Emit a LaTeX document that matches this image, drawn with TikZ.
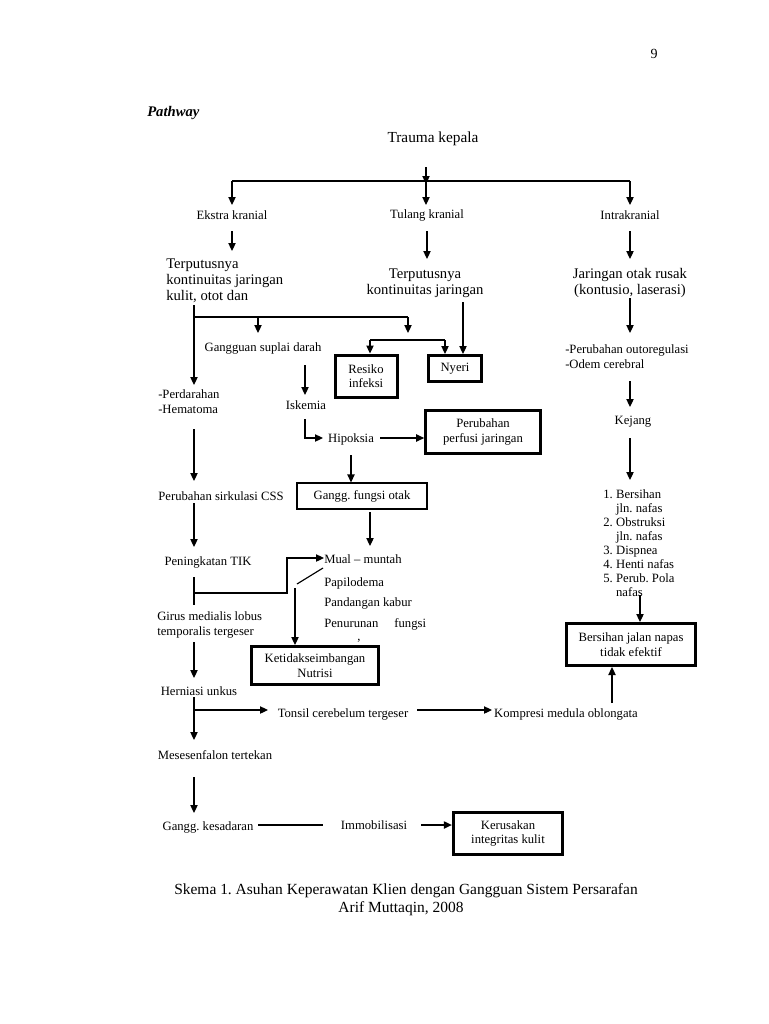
\documentclass[tikz,border=0pt]{standalone}
\usepackage{fontspec}
\setmainfont{Liberation Serif}
\usetikzlibrary{arrows.meta}
\begin{document}
\frenchspacing
\begin{tikzpicture}[x=0.75pt,y=-0.75pt,
  sm/.style={font=\fontsize{9.5}{11}\selectfont, inner sep=0pt, yshift=-1pt},
  lg/.style={font=\fontsize{11}{11.8}\selectfont, inner sep=0pt, yshift=-1pt},
  ln/.style={line width=0.85pt},
  arr/.style={line width=0.85pt,-{Triangle[length=6pt,width=5.5pt]}},
  tbox/.style={draw, line width=2.25pt, font=\fontsize{9.5}{10.8}\selectfont, align=center, inner sep=0pt},
  nbox/.style={draw, line width=0.85pt, font=\fontsize{9.5}{11}\selectfont, align=center, inner sep=0pt}]
\useasboundingbox[fill=white] (0,0) rectangle (768,1024);

% ---------- nodes ----------
\node[inner sep=0pt, font=\fontsize{10.5}{12}\selectfont] (pg) at (654,54) {9};
\node[anchor=west, inner sep=0pt, font=\fontsize{11}{13}\selectfont\bfseries\itshape] (pw) at (147,113) {Pathway};
\node[inner sep=0pt, font=\fontsize{11.5}{13}\selectfont] (trauma) at (433,139) {Trauma kepala};

\node[sm] (ek) at (232,214) {Ekstra kranial};
\node[sm] (tul) at (427,214) {Tulang kranial};
\node[sm] (intra) at (630,214) {Intrakranial};

\node[lg, anchor=west, align=left] (tk1) at (166,279.5) {Terputusnya\\kontinuitas jaringan\\kulit, otot dan};
\node[lg, align=center] (tk2) at (425,282) {Terputusnya\\kontinuitas jaringan};
\node[lg, align=center] (jor) at (630,282) {Jaringan otak rusak\\(kontusio, laserasi)};

\node[sm] (gsd) at (263,347) {Gangguan suplai darah};
\node[tbox, minimum width=46.5pt, minimum height=31.5pt] (res) at (366,376) {Resiko\\infeksi};
\node[tbox, minimum width=39.75pt, minimum height=19.5pt] (nye) at (455,368.5) {Nyeri};
\node[sm, anchor=west, align=left] (perd) at (158,400.5) {-Perdarahan\\-Hematoma};
\node[sm] (isk) at (306,404) {Iskemia};
\node[sm] (hip) at (351,438) {Hipoksia};
\node[tbox, minimum width=86pt, minimum height=32pt] (perf) at (483,432) {Perubahan\\perfusi jaringan};
\node[nbox, minimum width=97.5pt, minimum height=19.5pt] (gfo) at (362,496) {Gangg. fungsi otak};
\node[sm] (psc) at (221,495) {Perubahan sirkulasi CSS};
\node[sm] (ptik) at (208,561) {Peningkatan TIK};

\node[sm, anchor=west] (m1) at (324,558) {Mual – muntah};
\node[sm, anchor=west] (m2) at (324,582) {Papilodema};
\node[sm, anchor=west] (m3) at (324,602) {Pandangan kabur};
\node[sm, anchor=west] (m4) at (324,623) {Penurunan\hspace{12pt}fungsi};
\node[sm] (m5) at (359,639) {,};

\node[sm, anchor=west, align=left] (girus) at (157,623.5) {Girus medialis lobus\\temporalis tergeser};
\node[tbox, minimum width=95pt, minimum height=28.5pt] (ket) at (315,665.5) {Ketidakseimbangan\\Nutrisi};
\node[sm] (hern) at (199,690) {Herniasi unkus};
\node[sm] (ton) at (343,713) {Tonsil cerebelum tergeser};
\node[sm] (kom) at (566,713) {Kompresi medula oblongata};
\node[sm] (mes) at (215,754) {Mesesenfalon tertekan};

\node[sm, anchor=west, align=left] (pou) at (565,355) {-Perubahan outoregulasi\\-Odem cerebral};
\node[sm] (kej) at (633,420) {Kejang};
\node[anchor=north west, inner sep=0pt, font=\fontsize{9.5}{10.5}\selectfont] (lst) at (603,488) {%
  \begin{tabular}{@{}l@{\hspace{2.5pt}}l@{}}
  1. & Bersihan\\
     & jln. nafas\\
  2. & Obstruksi\\
     & jln. nafas\\
  3. & Dispnea\\
  4. & Henti nafas\\
  5. & Perub. Pola\\
     & nafas
  \end{tabular}};
\node[tbox, minimum width=97pt, minimum height=31.5pt] (bers) at (631,644.5) {Bersihan jalan napas\\tidak efektif};

\node[sm] (gk) at (208,826) {Gangg. kesadaran};
\node[sm] (imm) at (374,824) {Immobilisasi};
\node[tbox, minimum width=82pt, minimum height=31.5pt] (ker) at (508,833.5) {Kerusakan\\integritas kulit};

\node[inner sep=0pt, font=\fontsize{11.6}{14}\selectfont] (cap1) at (406,891) {Skema 1. Asuhan Keperawatan Klien dengan Gangguan Sistem Persarafan};
\node[inner sep=0pt, font=\fontsize{11.6}{14}\selectfont] (cap2) at (401,909) {Arif Muttaqin, 2008};

% ---------- junction coordinates ----------
\coordinate (jT) at (426,167);
\coordinate (jL) at (232,181);
\coordinate (jM) at (426,181);
\coordinate (jR) at (630,181);
\coordinate (hA) at (194,305);
\coordinate (hB) at (194,317);
\coordinate (hC) at (258,317);
\coordinate (hD) at (408,317);
\coordinate (bL) at (370,340);
\coordinate (bR) at (445,340);
\coordinate (pA) at (194,577);
\coordinate (pB) at (194,593);
\coordinate (pC) at (287,593);
\coordinate (pD) at (287,558);
\coordinate (hn) at (194,710);

% ---------- connectors ----------
\draw[arr] (jT) -- (426,184);
\draw[ln] (jL) -- (jR);
\draw[arr] (jL) -- (232,205);
\draw[arr] (jM) -- (426,205);
\draw[arr] (jR) -- (630,205);

\draw[arr] (232,231) -- (232,251);
\draw[arr] (427,231) -- (427,259);
\draw[arr] (630,231) -- (630,259);

% left branch from Terputusnya (kulit)
\draw[arr] (hA) -- (194,385);
\draw[ln] (hB) -- (hD);
\draw[arr] (hC) -- (258,333);
\draw[arr] (hD) -- (408,333);
\draw[ln] (bL) -- (bR);
\draw[arr] (bL) -- (res.north -| bL);
\draw[arr] (bR) -- (nye.north -| bR);
\draw[arr] (463,302) -- (nye.north -| 463,0);

\draw[arr] (305,365) -- (305,395);
\draw[arr] (305,419) -- (305,438) -- (323,438);
\draw[arr] (380,438) -- (perf.west |- 0,438);
\draw[arr] (351,455) -- (gfo.north -| 351,0);

\draw[arr] (194,429) -- (194,481);
\draw[arr] (194,503) -- (194,547);
\draw[arr] (370,512) -- (370,546);

\draw[ln] (pA) -- (194,605);
\draw[arr] (pB) -- (pC) -- (pD) -- (m1.west |- pD);
\draw[ln] (323,568) -- (297,584);
\draw[arr] (295,588) -- (ket.north -| 295,0);

\draw[arr] (194,642) -- (194,678);
\draw[arr] (194,697) -- (194,740);
\draw[arr] (hn) -- (268,710);
\draw[arr] (417,710) -- (492,710);
\draw[arr] (612,703) -- (bers.south -| 612,0);

\draw[arr] (194,777) -- (194,813);
\draw[ln] (258,825) -- (323,825);
\draw[arr] (421,825) -- (ker.west |- 0,825);

% right column
\draw[arr] (630,298) -- (630,333);
\draw[arr] (630,381) -- (630,407);
\draw[arr] (630,438) -- (630,480);
\draw[arr] (640,595) -- (bers.north -| 640,0);
\end{tikzpicture}
\end{document}
